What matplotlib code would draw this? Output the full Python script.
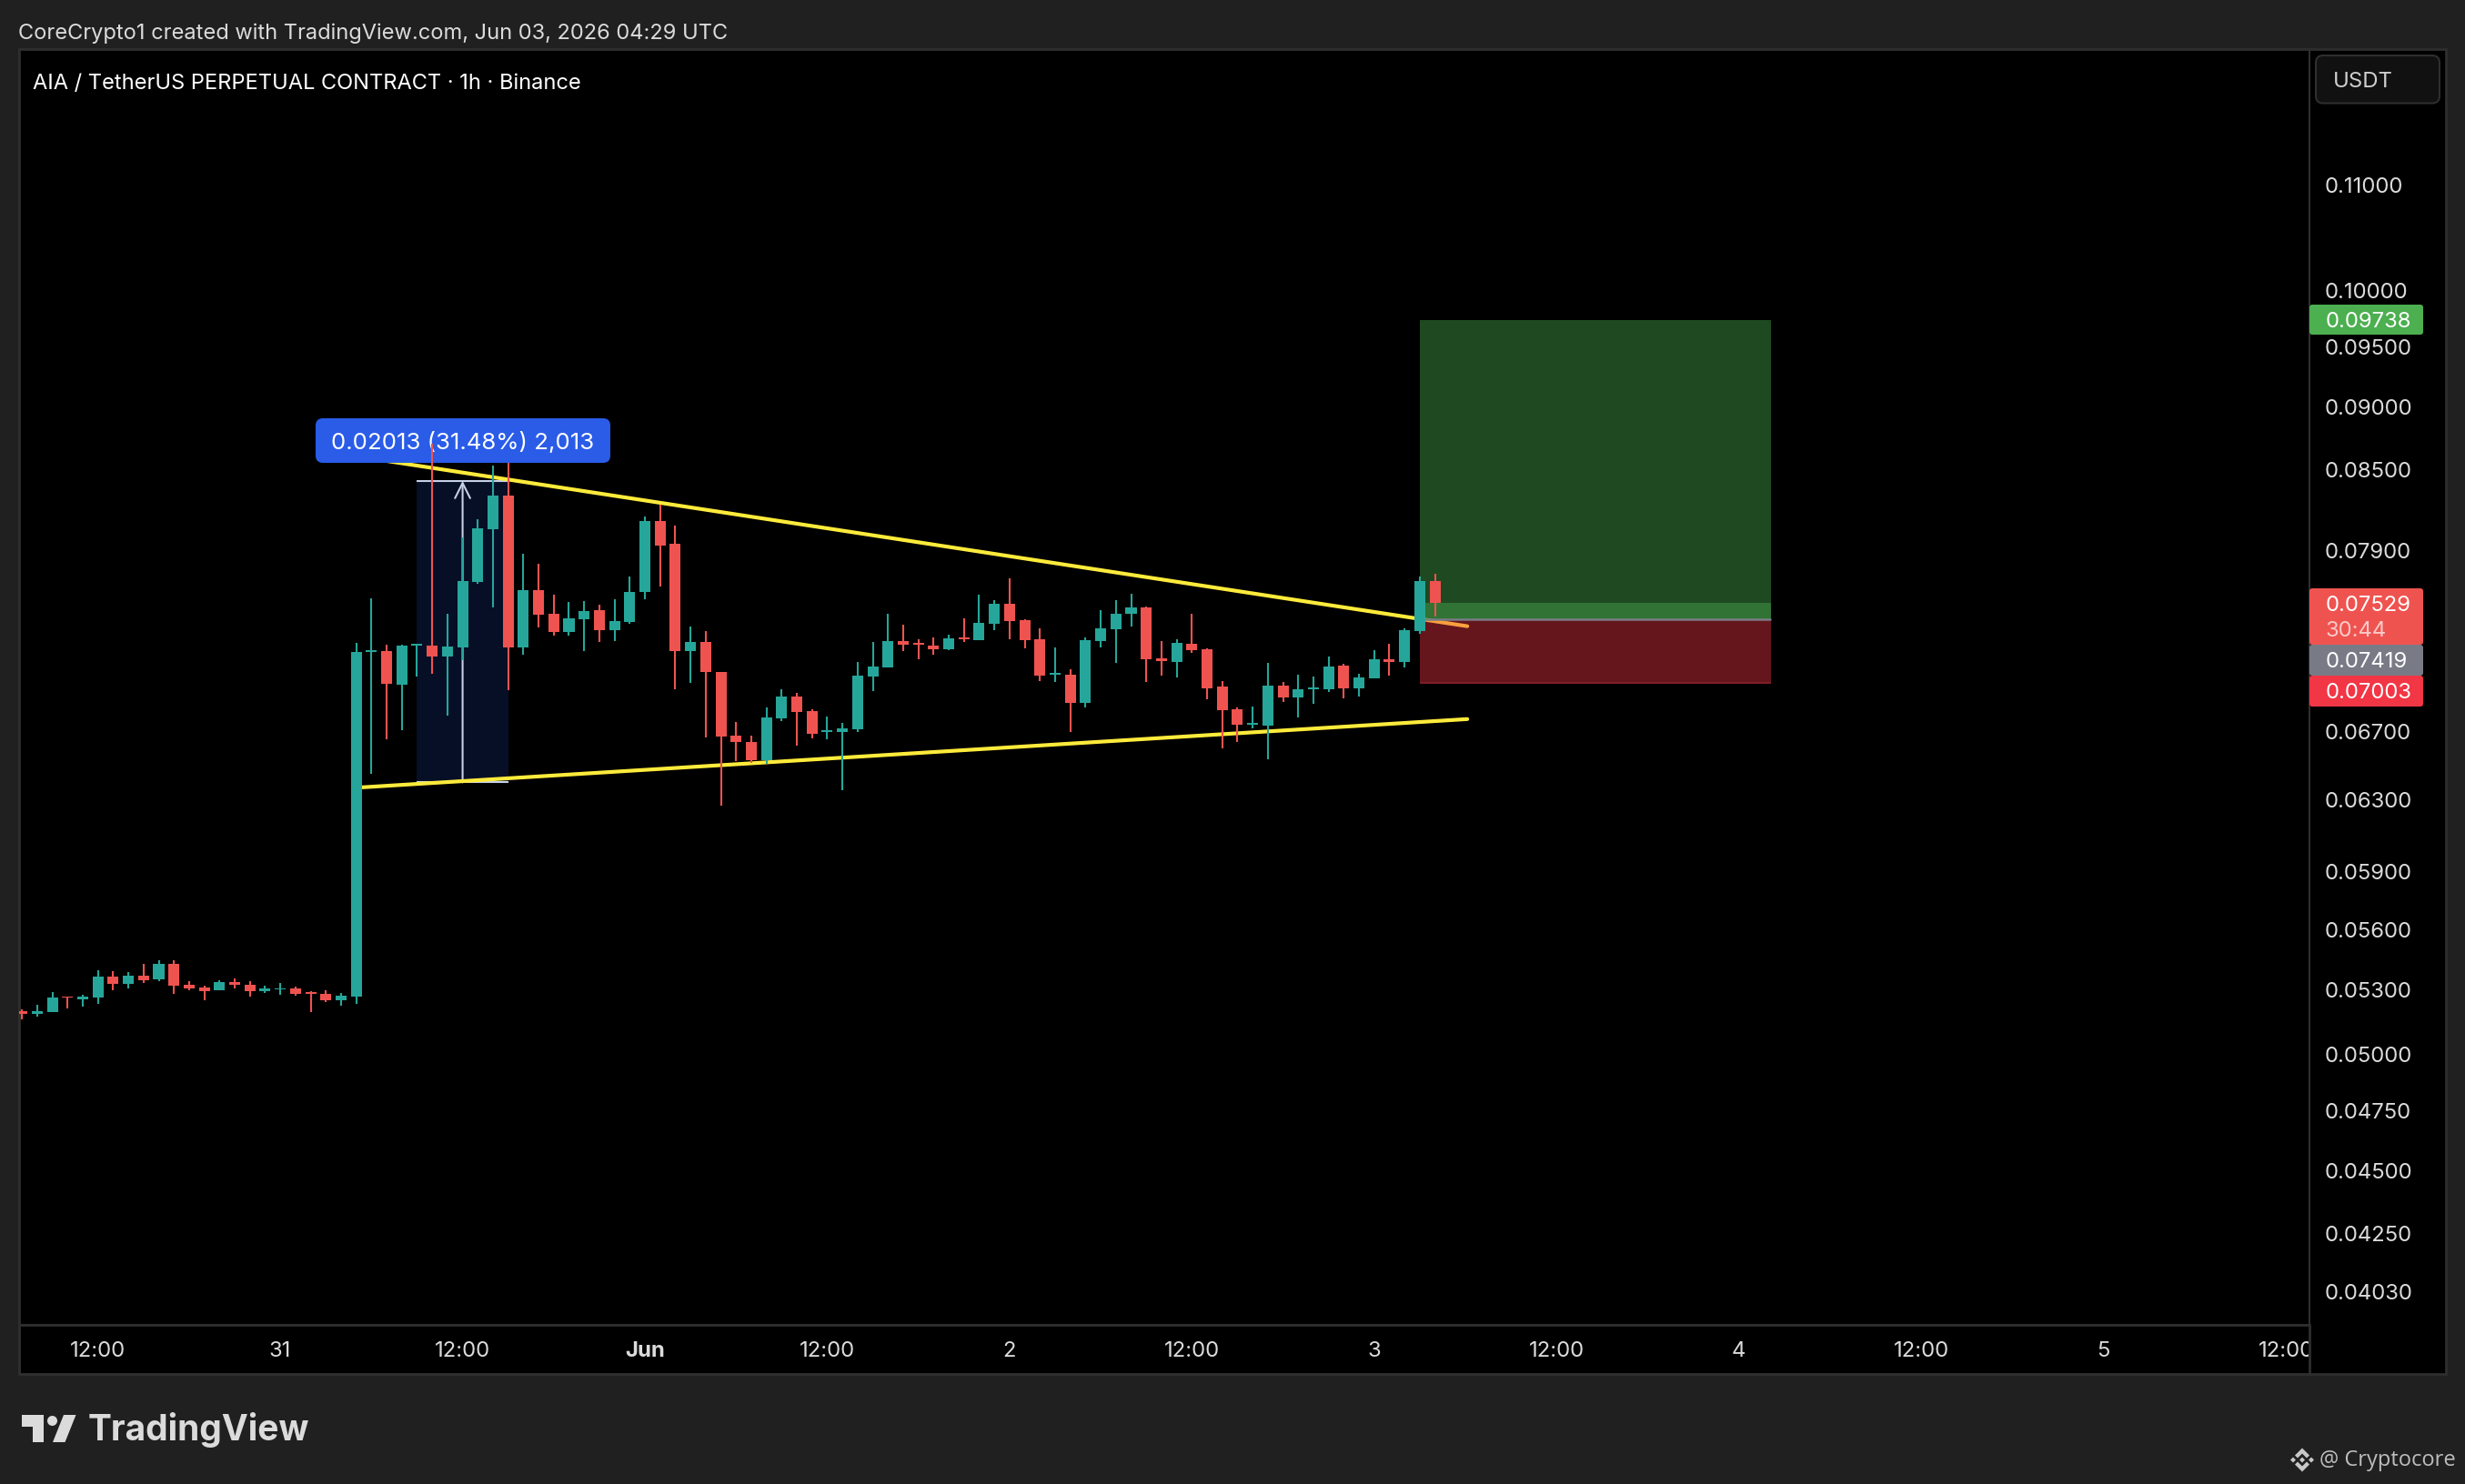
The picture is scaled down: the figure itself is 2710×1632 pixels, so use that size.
import numpy as np
import matplotlib
matplotlib.use('Agg')
import matplotlib.pyplot as plt
from matplotlib.patches import FancyBboxPatch, Rectangle, Polygon, Circle
from matplotlib.transforms import IdentityTransform, Bbox

W, H = 2710, 1632

# hourly candles, hour 0 = May 31 00:00 UTC
hours = np.arange(-17, 77)
opens = [.05202, .05188, .05196, .05270, .05258, .05264, .05366, .05331, .05370, .05352,
         .05426, .05327, .05313, .05299, .05341, .05327, .05296, .05306, .05310, .05292,
         .05282, .05253, .05270, .07205, .07211, .06994, .07247, .07244, .07174, .07235,
         .07676, .08053, .08303, .07235, .07620, .07459, .07336, .07421, .07484, .07347,
         .07405, .07609, .08112, .07947, .07211, .07270, .07075, .06678, .06639, .06531,
         .06784, .06919, .06828, .06700, .06700, .06717, .07046, .07104, .07276, .07264,
         .07246, .07222, .07300, .07282, .07391, .07527, .07416, .07288, .07058, .07058,
         .06879, .07276, .07355, .07459, .07502, .07163, .07140, .07258, .07222, .06982,
         .06840, .06744, .06739, .06988, .06913, .06965, .06965, .07116, .06971, .07034,
         .07157, .07140, .07343, .07683]
closes = [.05187, .05200, .05264, .05263, .05270, .05366, .05331, .05370, .05348, .05426,
          .05323, .05310, .05296, .05341, .05327, .05296, .05310, .05310, .05282, .05284,
          .05253, .05274, .07205, .07216, .06999, .07244, .07258, .07174, .07241, .07682,
          .08059, .08303, .07235, .07620, .07454, .07336, .07429, .07476, .07347, .07410,
          .07609, .08112, .07935, .07211, .07270, .07074, .06672, .06639, .06531, .06789,
          .06919, .06823, .06689, .06711, .06722, .07052, .07110, .07276, .07252, .07252,
          .07222, .07294, .07288, .07397, .07527, .07409, .07282, .07052, .07069, .06879,
          .07282, .07361, .07459, .07502, .07157, .07146, .07264, .07217, .06971, .06834,
          .06744, .06755, .06988, .06913, .06965, .06976, .07110, .06971, .07040, .07157,
          .07140, .07349, .07683, .07529]
highs = [.05208, .05231, .05292, .05270, .05280, .05397, .05391, .05387, .05426, .05444,
         .05444, .05344, .05323, .05348, .05358, .05344, .05323, .05335, .05317, .05296,
         .05299, .05288, .07264, .07565, .07253, .07253, .07258, .08704, .07459, .07993,
         .08127, .08532, .08553, .07877, .07805, .07590, .07540, .07546, .07520, .07559,
         .07716, .08146, .08233, .08080, .07372, .07342, .07075, .06760, .06678, .06851,
         .06965, .06942, .06840, .06795, .06755, .07140, .07270, .07459, .07385, .07288,
         .07300, .07318, .07428, .07589, .07552, .07702, .07422, .07361, .07234, .07093,
         .07300, .07484, .07552, .07595, .07508, .07276, .07288, .07459, .07228, .07017,
         .06851, .06856, .07134, .07011, .07058, .07046, .07175, .07128, .07063, .07217,
         .07258, .07361, .07715, .07734]
lows = [.05163, .05174, .05196, .05214, .05222, .05233, .05299, .05310, .05335, .05344,
        .05282, .05299, .05253, .05299, .05310, .05270, .05288, .05278, .05274, .05196,
        .05243, .05226, .05235, .06452, .06656, .06711, .07045, .07063, .06800, .07153,
        .07665, .07501, .06960, .07187, .07366, .07312, .07312, .07211, .07270, .07277,
        .07391, .07559, .07645, .06965, .07006, .06667, .06267, .06526, .06515, .06506,
        .06767, .06618, .06661, .06656, .06356, .06700, .06953, .07104, .07211, .07157,
        .07187, .07217, .07270, .07282, .07349, .07288, .07228, .07017, .07011, .06700,
        .06851, .07234, .07134, .07373, .07011, .07052, .07040, .07199, .06902, .06601,
        .06639, .06722, .06536, .06885, .06789, .06873, .06948, .06908, .06919, .07034,
        .07052, .07104, .07324, .07440]

price_ticks = [.11, .10, .095, .09, .085, .079, .067, .063, .059, .056, .053, .05,
               .0475, .045, .0425, .0403]
time_ticks = [-12, 0, 12, 24, 36, 48, 60, 72, 84, 96, 108, 120, 132]
time_labels = ['12:00', '31', '12:00', 'Jun', '12:00', '2', '12:00', '3', '12:00', '4',
               '12:00', '5', '12:00']

upper_x, upper_y = [5, 78.13], [.08603, .07374]
lower_x, lower_y = [5, 78.13], [.06369, .06778]
range_x, range_y = [9, 15], [.06400, .08413]
pos_x = [75, 98.1]
entry, target, stop, last = .07419, .09738, .07003, .07529

GREEN = '#26A69A'
RED = '#EF5350'
TXT = '#DBDBDB'
BORDER = '#2E2E2E'
plt.rcParams['font.family'] = ['Inter', 'DejaVu Sans']


def fx(x):
    return x / W


def fy(y):
    return 1 - y / H


fig = plt.figure(figsize=(W / 100, H / 100), dpi=100, facecolor='#202020')

# black chart frame behind everything
fig.add_artist(Rectangle((21, H - 1511), 2668, 1457, transform=IdentityTransform(),
                         fc='black', ec=BORDER, lw=2, zorder=-5))

ax = fig.add_axes([fx(21), 1 - 1457 / H, (2539 - 21) / W, (1457 - 54) / H])
ax.patch.set_visible(False)
ax.set_yscale('log')
ax.set_xlim(-17.19, 133.56)
ax.set_ylim(.03912, .12448)
for s in ax.spines.values():
    s.set_color(BORDER)
    s.set_linewidth(1.5)

ax.yaxis.tick_right()
ax.set_yticks(price_ticks)
ax.set_yticklabels(['%.5f' % p for p in price_ticks])
ax.minorticks_off()
ax.tick_params(axis='y', length=0, pad=12, labelsize=17.2, labelcolor=TXT)
ax.set_xticks(time_ticks)
ax.set_xticklabels(time_labels)
ax.tick_params(axis='x', length=0, pad=13, labelsize=17.2, labelcolor=TXT)
for lab, txt in zip(ax.get_xticklabels(), time_labels):
    if txt == 'Jun':
        lab.set_fontweight('bold')
    lab.set_clip_on(True)
    lab.set_clip_box(Bbox([[21, 0], [2538, H]]))

# measure tool
ax.add_patch(Rectangle((range_x[0], range_y[0]), range_x[1] - range_x[0], range_y[1] - range_y[0],
                       fc='#060F25', ec='none', zorder=0.5))
ax.hlines(range_y, range_x[0], range_x[1], color='#C5D0E6', lw=1.5, zorder=0.6)
ax.annotate('', xy=(12, range_y[1]), xytext=(12, range_y[0]), zorder=0.7,
            arrowprops=dict(arrowstyle='->', color='#C5D0E6', lw=1.5, shrinkA=0, shrinkB=0,
                            mutation_scale=30))

# trend lines
ax.plot(upper_x, upper_y, color='#FFEB3B', lw=3, solid_capstyle='round', zorder=1)
ax.plot(lower_x, lower_y, color='#FFEB3B', lw=3, solid_capstyle='round', zorder=1)

# long position tool
ax.add_patch(Rectangle((pos_x[0], entry), pos_x[1] - pos_x[0], target - entry,
                       fc='#4CAF50', alpha=.42, ec='none', zorder=2))
ax.add_patch(Rectangle((pos_x[0], entry), pos_x[1] - pos_x[0], last - entry,
                       fc='#4CAF50', alpha=.42, ec='none', zorder=2))
ax.add_patch(Rectangle((pos_x[0], stop), pos_x[1] - pos_x[0], entry - stop,
                       fc='#F23645', alpha=.42, ec='none', zorder=2))
ax.hlines(entry, pos_x[0], pos_x[1], color='#787B86', lw=1.8, zorder=2.1)
ax.hlines(stop, pos_x[0], pos_x[1], color='#7E1E28', lw=1.5, zorder=2.1)

# label of the measure tool sits over the lines but under the candles
ax.add_artist(FancyBboxPatch((352, H - 504), 314, 39, boxstyle='round,pad=5,rounding_size=8',
                             transform=IdentityTransform(), fc='#2A5CE8', ec='none', zorder=3))
ax.text(fx(509), fy(486.5), '0.02013 (31.48%) 2,013', color='white', fontsize=18.6,
        ha='center', va='center', zorder=3.1, transform=fig.transFigure)

# candles
opens, closes, highs, lows = map(np.array, (opens, closes, highs, lows))
colors = np.where(closes >= opens, GREEN, RED)
ax.vlines(hours, lows, highs, colors=colors, lw=1.5, zorder=4)
ax.bar(hours, np.abs(closes - opens), bottom=np.minimum(opens, closes), width=.72,
       color=colors, linewidth=0, zorder=4)

# price tags on the scale
tags = [(335, 368, '#4CAF50', '0.09738'), (647, 709, '#EF5350', '0.07529'),
        (709, 743, '#787B86', '0.07419'), (743, 777, '#F23645', '0.07003')]
for y0, y1, col, txt in tags:
    fig.add_artist(FancyBboxPatch((2539, H - y1), 125, y1 - y0,
                                  boxstyle='round,pad=0,rounding_size=3',
                                  transform=IdentityTransform(), fc=col, ec='none', zorder=5))
    cy = y0 + 19 if y1 - y0 < 50 else 666
    fig.text(fx(2557), fy(cy), txt, color='white', fontsize=17.2, va='center', zorder=6)
fig.text(fx(2557), fy(693.5), '30:44', color='#F9C9C8', fontsize=17.2, va='center', zorder=6)

# USDT button and time axis frame
fig.add_artist(FancyBboxPatch((2546, H - 113.5), 136, 52.5, boxstyle='round,pad=0,rounding_size=8',
                              transform=IdentityTransform(), fc='#111111', ec='#2E2E2E', lw=1.5, zorder=5))
fig.text(fx(2565), fy(90), 'USDT', color='#CFCFCF', fontsize=17.2, va='center', zorder=6)
fig.add_artist(Rectangle((21, H - 1511), 2518, 54, transform=IdentityTransform(),
                         fc='none', ec=BORDER, lw=2, zorder=5))

# header
fig.text(fx(20), fy(37), 'CoreCrypto1 created with TradingView.com, Jun 03, 2026 04:29 UTC',
         color=TXT, fontsize=17, va='center')
fig.text(fx(36), fy(92), 'AIA / TetherUS PERPETUAL CONTRACT \u00b7 1h \u00b7 Binance',
         color='white', fontsize=17, va='center', zorder=6)

# TradingView mark and name
LOGO = '#DBDBDB'
for pts in ([(24, 1556), (48, 1556), (48, 1586), (36, 1586), (36, 1568.5), (24, 1568.5)],
            [(70, 1556), (83.5, 1556), (71.5, 1586), (58, 1586)]):
    fig.add_artist(Polygon([(x, H - y) for x, y in pts], transform=IdentityTransform(),
                           fc=LOGO, ec='none'))
fig.add_artist(Circle((57.5, H - 1562.5), 5.5, transform=IdentityTransform(), fc=LOGO, ec='none'))
fig.text(fx(97), fy(1572), 'TradingView', color=LOGO, fontsize=28, fontweight='bold', va='center')

# Binance mark and credit
BN = '#C8C8C8'
cx, cy = 2531, 1605.5
for pts in ([(0, -13), (8, -5), (5, -2), (0, -7), (-5, -2), (-8, -5)],
            [(0, 13), (8, 5), (5, 2), (0, 7), (-5, 2), (-8, 5)],
            [(0, -3), (3, 0), (0, 3), (-3, 0)],
            [(-10, -3), (-7, 0), (-10, 3), (-13, 0)],
            [(10, -3), (13, 0), (10, 3), (7, 0)]):
    fig.add_artist(Polygon([(cx + x, H - cy - y) for x, y in pts], transform=IdentityTransform(),
                           fc=BN, ec='none'))
fig.text(fx(2550), fy(1606), '@ Cryptocore', color='#BDBDBD', fontsize=17, family=['Open Sans', 'DejaVu Sans'],
         va='center')

fig.savefig('out.png', dpi=100, facecolor=fig.get_facecolor())
